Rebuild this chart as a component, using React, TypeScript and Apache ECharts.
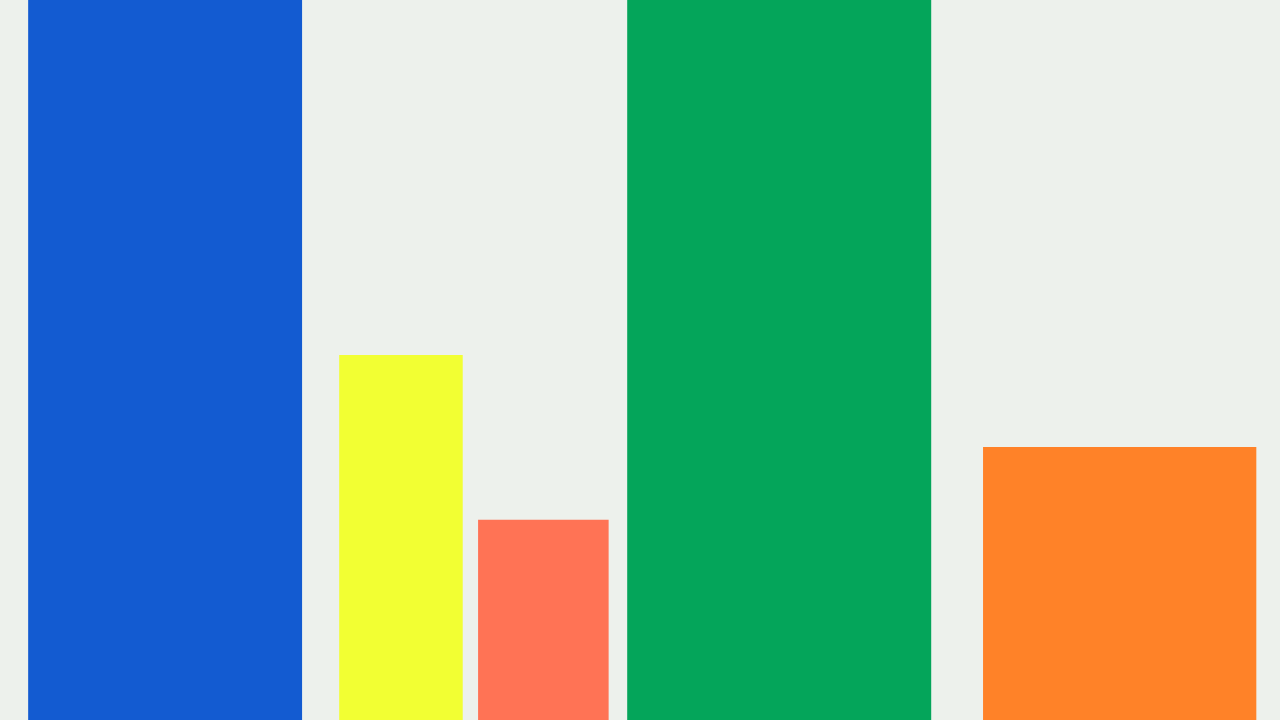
import { useEffect, useRef } from 'react';
import * as echarts from 'echarts';

// variable-width bars: x extent (start/end) on a 0-100 axis, height on a 0-100 axis
const names = ['A', 'B', 'C', 'D', 'E'];
const starts = [2.2, 26.5, 37.35, 49.0, 76.8];
const ends = [23.6, 36.15, 47.55, 72.75, 98.15];
const heights = [115, 50.7, 27.8, 115, 37.9];
const colors = ['#135BD1', '#F2FF33', '#FF7355', '#04A55A', '#FF8228'];

export default function App() {
  const ref = useRef<HTMLDivElement>(null);

  useEffect(() => {
    if (!ref.current) return;
    const chart = echarts.init(ref.current, null, { renderer: 'svg' });
    chart.setOption({
      animation: false,
      backgroundColor: '#EDF1EC',
      grid: { left: 0, right: 0, top: 0, bottom: 0 },
      xAxis: { type: 'value', min: 0, max: 100, show: false },
      yAxis: { type: 'value', min: 0, max: 100, show: false },
      series: [
        {
          type: 'custom',
          clip: true,
          data: names.map((n, i) => ({ name: n, value: [starts[i], ends[i], heights[i]] })),
          renderItem: (params: any, api: any) => {
            const i = params.dataIndex;
            const p0 = api.coord([api.value(0), 0]);
            const p1 = api.coord([api.value(1), api.value(2)]);
            return {
              type: 'rect',
              shape: { x: p0[0], y: p1[1], width: p1[0] - p0[0], height: p0[1] - p1[1] },
              style: { fill: colors[i] },
            };
          },
        },
      ],
    });
    const onResize = () => chart.resize();
    window.addEventListener('resize', onResize);
    return () => {
      window.removeEventListener('resize', onResize);
      chart.dispose();
    };
  }, []);

  return <div ref={ref} style={{ position: 'fixed', left: 0, top: 0, width: '100vw', height: '100vh' }} />;
}
